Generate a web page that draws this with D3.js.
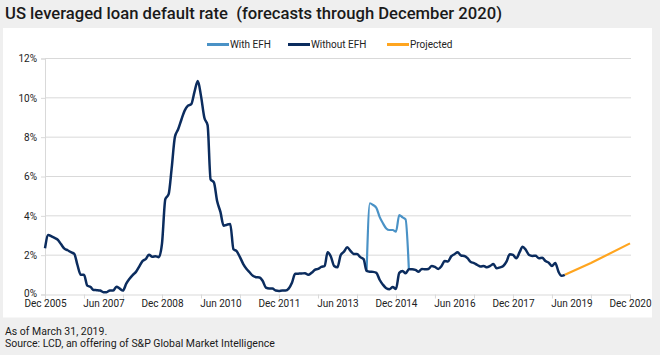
<!DOCTYPE html>
<html><head><meta charset="utf-8">
<script src="https://cdn.jsdelivr.net/npm/d3@7"></script>
<style>
html,body{margin:0;padding:0;background:#efefef;}
svg{display:block;font-family:Roboto,"Liberation Sans",sans-serif;}
</style></head>
<body><svg id="c" width="660" height="355"></svg>
<script>
// ---- data (percent, monthly) ----
const withoutStart = "2005-12";
const withoutEFH = [2.35,3.02,2.95,2.88,2.78,2.55,2.33,2.25,2.15,2.07,1.5,1.0,1.0,0.45,0.38,0.23,0.22,0.2,0.12,0.12,
0.2,0.2,0.4,0.3,0.2,0.55,0.8,0.99,1.15,1.42,1.7,1.8,2.02,1.92,1.95,1.9,2.6,4.85,5.1,6.4,
8.02,8.4,8.9,9.35,9.6,9.68,10.3,10.85,10.1,9.0,8.6,5.85,5.7,4.75,4.2,3.5,3.55,3.58,2.3,2.2,
1.9,1.55,1.3,1.13,0.95,0.88,0.87,0.7,0.35,0.3,0.3,0.2,0.18,0.2,0.2,0.3,0.6,1.05,1.06,1.07,
1.08,1.0,1.1,1.25,1.3,1.4,1.45,2.15,1.92,1.45,1.38,2.0,2.18,2.4,2.22,2.06,2.06,1.9,1.8,1.2,
1.16,1.15,1.1,0.75,0.5,0.32,0.27,0.38,0.28,1.1,1.2,1.08,1.28,1.28,1.25,1.16,1.3,1.28,1.3,1.45,
1.4,1.3,1.45,1.7,1.68,1.94,2.05,2.15,1.98,1.96,1.85,1.65,1.6,1.5,1.42,1.45,1.38,1.45,1.55,1.33,
1.38,1.45,1.67,2.05,2.01,1.84,2.15,2.43,2.26,2.01,1.96,1.97,1.84,1.87,1.7,1.62,1.45,1.6,1.15,0.95,1.0];
const withStart = "2014-03";
const withEFH = [1.2,4.64,4.55,4.4,3.95,3.62,3.36,3.28,3.28,3.2,4.04,3.92,3.82,1.28];
const projectedMonths = ["2019-04","2019-12","2020-12"];
const projected = [1.0,1.6,2.6];
const xLabels = ["Dec 2005","Jun 2007","Dec 2008","Jun 2010","Dec 2011","Jun 2013","Dec 2014","Jun 2016","Dec 2017","Jun 2019","Dec 2020"];
const yTicks = [0,2,4,6,8,10,12];
const seriesNames = ["With EFH","Without EFH","Projected"];
const colors = ["#4a92c6","#0b2c5e","#ffa51f"];

// ---- build ----
const pm = d3.timeParse("%Y-%m"), pl = d3.timeParse("%b %Y");
const monthly = (start, vals) => vals.map((v,i)=>({d:d3.timeMonth.offset(pm(start),i), v}));
const dWithout = monthly(withoutStart, withoutEFH);
const dWith = monthly(withStart, withEFH);
const dProj = projectedMonths.map((m,i)=>({d:pm(m), v:projected[i]}));

const svg = d3.select("#c");
svg.append("rect").attr("width",660).attr("height",355).attr("fill","#efefef");
svg.append("rect").attr("x",3).attr("y",28).attr("width",649).attr("height",289.5).attr("fill","#fff");

svg.append("text").attr("x",5).attr("y",19).attr("font-size",16.5).attr("font-weight",500).attr("fill","#1a1a1a")
  .attr("textLength",497).attr("lengthAdjust","spacingAndGlyphs")
  .text("US leveraged loan default rate  (forecasts through December 2020)").style("white-space","pre");

const x = d3.scaleTime().domain([pl("Dec 2005"), pl("Dec 2020")]).range([45,630]);
const y = d3.scaleLinear().domain([0,12]).range([294.5,58.5]);

// gridlines
svg.append("g").selectAll("line").data(yTicks.filter(t=>t>0)).join("line")
  .attr("x1",45).attr("x2",631).attr("y1",d=>y(d)).attr("y2",d=>y(d))
  .attr("stroke","#d9d9d9").attr("stroke-width",1);

// y axis
const ya = svg.append("g").attr("transform","translate(45,0)")
  .call(d3.axisLeft(y).tickValues(yTicks).tickSize(4).tickPadding(4).tickFormat(d=>d+"%"));
ya.select(".domain").attr("stroke","#d9d9d9");
ya.selectAll(".tick line").attr("stroke","#d9d9d9");
ya.selectAll("text").attr("font-size",10).attr("fill","#222").attr("font-family","Roboto,sans-serif");
ya.selectAll(".tick").filter(d=>d===0).select("text").attr("dy","0.2em");

// x axis
const yearTicks = d3.range(2005,2021).map(yr=>pl("Dec "+yr));
const xa = svg.append("g").attr("transform","translate(0,294.5)")
  .call(d3.axisBottom(x).tickValues(yearTicks).tickSize(4).tickFormat(""));
xa.select(".domain").attr("stroke","#d9d9d9");
xa.selectAll(".tick line").attr("stroke","#d9d9d9");
const xl = svg.append("g").attr("transform","translate(0,294.5)")
  .call(d3.axisBottom(x).tickValues(xLabels.map(l=>pl(l))).tickSize(0).tickPadding(5.5).tickFormat(d3.timeFormat("%b %Y")));
xl.select(".domain").remove();
xl.selectAll("text").attr("font-size",10).attr("fill","#222").attr("font-family","Roboto,sans-serif");

// lines
const line = d3.line().x(d=>x(d.d)).y(d=>y(d.v)).curve(d3.curveMonotoneX);
svg.append("path").datum(dWith).attr("d",line).attr("fill","none").attr("stroke",colors[0]).attr("stroke-width",2.2);
svg.append("path").datum(dWithout).attr("d",line).attr("fill","none").attr("stroke",colors[1]).attr("stroke-width",2.5).attr("stroke-linejoin","round");
svg.append("path").datum(dProj).attr("d",d3.line().x(d=>x(d.d)).y(d=>y(d.v))).attr("fill","none").attr("stroke",colors[2]).attr("stroke-width",2.2);

// legend
const legX = [207,288,387];
const lg = svg.append("g").selectAll("g").data(seriesNames).join("g");
lg.append("line").attr("x1",(d,i)=>legX[i]).attr("x2",(d,i)=>legX[i]+22).attr("y1",44.5).attr("y2",44.5)
  .attr("stroke",(d,i)=>colors[i]).attr("stroke-width",3);
lg.append("text").attr("x",(d,i)=>legX[i]+23).attr("y",44.5).attr("dy","0.35em")
  .attr("font-size",10).attr("fill","#222").text(d=>d);

// footnotes
svg.append("text").attr("x",5).attr("y",334.5).attr("font-size",10.5).attr("fill","#1a1a1a").text("As of March 31, 2019.");
svg.append("text").attr("x",5).attr("y",346.5).attr("font-size",10.5).attr("fill","#1a1a1a").text("Source: LCD, an offering of S&P Global Market Intelligence");
</script></body></html>
